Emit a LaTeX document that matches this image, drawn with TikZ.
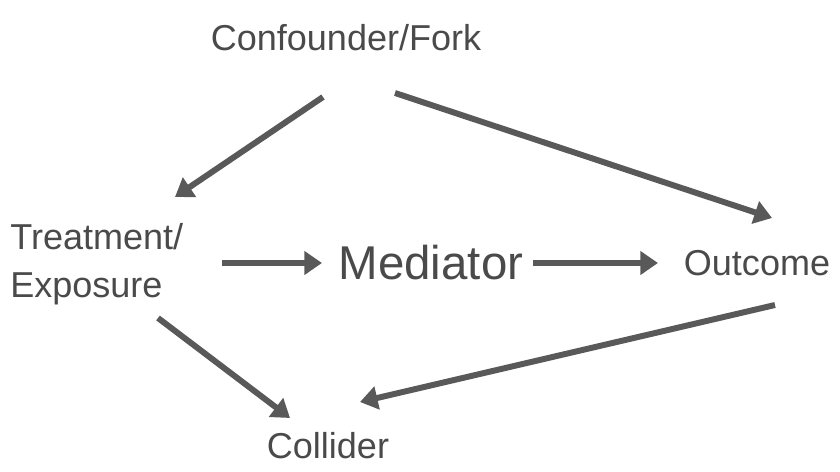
\documentclass[tikz,border=0pt]{standalone}
\usepackage{fontspec}
\setmainfont{Liberation Sans}
\usetikzlibrary{arrows.meta}
\definecolor{arrowgray}{HTML}{595959}
\definecolor{textgray}{HTML}{4A4A4A}
\begin{document}
\begin{tikzpicture}[x=0.02cm,y=-0.02cm,
    lbl/.style={text=textgray,font=\fontsize{20.5}{24}\selectfont,inner sep=0pt},
    arr/.style={draw=arrowgray,line width=3.4pt,-{Triangle[length=10pt,width=13pt]}}]

    \useasboundingbox (0,0) rectangle (840,472);

    \node[lbl] (conf) at (346,38) {Confounder/Fork};
    \node[lbl,align=left,anchor=west,font=\fontsize{20.5}{27.5}\selectfont] (treat) at (10,264) {Treatment/\\Exposure};
    \node[lbl,font=\fontsize{27}{30}\selectfont] (med) at (431,263) {Mediator};
    \node[lbl] (out) at (757,263) {Outcome};
    \node[lbl] (coll) at (328,446) {Collider};

    % arrow end points
    \coordinate (c1) at (323,97);  \coordinate (t1) at (175,197);
    \coordinate (c2) at (395,93);  \coordinate (o1) at (772,218);
    \coordinate (t2) at (222,263); \coordinate (m1) at (322,263);
    \coordinate (m2) at (533,263); \coordinate (o2) at (658,263);
    \coordinate (t3) at (158,318); \coordinate (k1) at (290,418);
    \coordinate (o3) at (775,305); \coordinate (k2) at (360,402);

    \draw[arr] (c1) -- (t1);
    \draw[arr] (c2) -- (o1);
    \draw[arr] (t2) -- (m1);
    \draw[arr] (m2) -- (o2);
    \draw[arr] (t3) -- (k1);
    \draw[arr] (o3) -- (k2);

\end{tikzpicture}
\end{document}
